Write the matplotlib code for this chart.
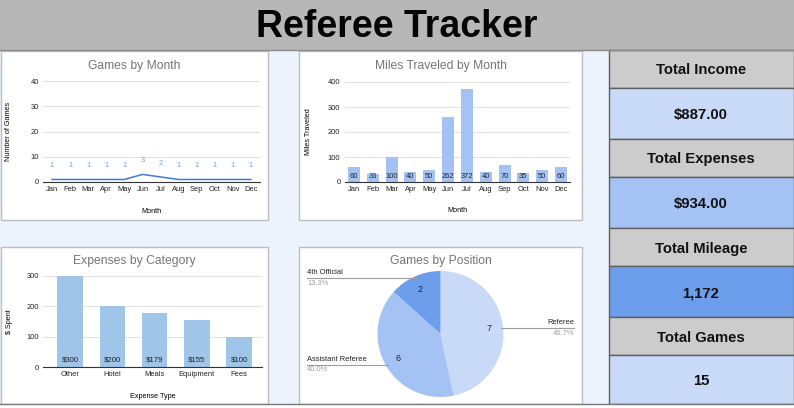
import matplotlib.pyplot as plt
from matplotlib.patches import Rectangle
import numpy as np

months = ['Jan', 'Feb', 'Mar', 'Apr', 'May', 'Jun', 'Jul', 'Aug', 'Sep', 'Oct', 'Nov', 'Dec']
games = [1, 1, 1, 1, 1, 3, 2, 1, 1, 1, 1, 1]
miles = [60, 33, 100, 40, 50, 262, 372, 40, 70, 35, 50, 60]
exp_types = ['Other', 'Hotel', 'Meals', 'Equipment', 'Fees']
exp_amounts = [300, 200, 179, 155, 100]
positions = ['Referee', 'Assistant Referee', '4th Official']
pos_games = [7, 6, 2]
summary_labels = ['Total Income', 'Total Expenses', 'Total Mileage', 'Total Games']
summary_values = ['$887.00', '$934.00', '1,172', '15']

W, H = 794, 408
plt.rcParams['font.family'] = ['Liberation Sans', 'DejaVu Sans']
fig = plt.figure(figsize=(W / 100, H / 100), dpi=100, facecolor='#ecf3fd')


def box(x0, y0, x1, y1):
    # pixel box (top-left origin) -> figure fraction
    return [x0 / W, 1 - y1 / H, (x1 - x0) / W, (y1 - y0) / H]


bg = fig.add_axes([0, 0, 1, 1])
bg.set_xlim(0, W)
bg.set_ylim(H, 0)
bg.axis('off')

# header
bg.add_patch(Rectangle((0, 0), W, 50, fc='#b7b7b7', ec='none'))
bg.plot([0, W], [50, 50], color='#8a8a8a', lw=1)
bg.text(397, 27, 'Referee Tracker', ha='center', va='center', fontsize=27,
        fontweight='bold', color='#050505')

# chart panels
for x0, y0, x1, y1 in [(0.5, 51, 268, 220), (299, 51, 582, 220),
                       (0.5, 247, 268, 404), (299, 247, 582, 404)]:
    bg.add_patch(Rectangle((x0, y0), x1 - x0, y1 - y0, fc='white', ec='#bdbdbd', lw=1))

# summary cells
edges = [50, 88, 139, 177, 228, 266, 317, 355, 404]
value_colors = ['#c9daf8', '#a4c2f4', '#6d9eeb', '#c9daf8']
for i in range(4):
    y0, y1, y2 = edges[2 * i], edges[2 * i + 1], edges[2 * i + 2]
    bg.add_patch(Rectangle((609, y0), W - 609, y1 - y0, fc='#cccccc', ec='#5f5f5f', lw=1))
    bg.add_patch(Rectangle((609, y1), W - 609, y2 - y1, fc=value_colors[i], ec='#5f5f5f', lw=1))
    bg.text(701, (y0 + y1) / 2 + 1.5, summary_labels[i], ha='center', va='center',
            fontsize=10.7, fontweight='bold', color='#111111')
    bg.text(701, (y1 + y2) / 2 + 1.5, summary_values[i], ha='center', va='center',
            fontsize=10.7, fontweight='bold', color='#111111')
bg.add_patch(Rectangle((0, 404), W, 4, fc='white', ec='none'))
bg.plot([0, W], [404, 404], color='#777777', lw=1)

tick_fs = 5.4
grid_c = '#e0e0e0'


def style(ax):
    for s in ['top', 'right', 'left']:
        ax.spines[s].set_visible(False)
    ax.spines['bottom'].set_color('#333333')
    ax.spines['bottom'].set_linewidth(0.8)
    ax.tick_params(length=0, labelsize=tick_fs, colors='#222222', pad=3)
    ax.yaxis.grid(True, color=grid_c, lw=0.7)
    ax.set_axisbelow(True)


# Games by Month
ax1 = fig.add_axes(box(43, 81, 260, 182))
style(ax1)
x = np.arange(len(months))
ax1.plot(x, games, color='#3f7bd6', lw=1.1)
for xi, v in zip(x, games):
    ax1.annotate(str(v), (xi, v), xytext=(0, 10), textcoords='offset points',
                 ha='center', va='center', fontsize=tick_fs, color='#6d9eeb')
ax1.set_xlim(-0.5, 11.5)
ax1.set_ylim(0, 40)
ax1.set_yticks([0, 10, 20, 30, 40])
ax1.set_xticks(x, months)
ax1.set_xlabel('Month', fontsize=5.2)
ax1.set_ylabel('Number of Games', fontsize=5.2)
ax1.xaxis.set_label_coords(0.5, -0.257)
ax1.yaxis.set_label_coords(-0.143, 0.5)
bg.text(134, 66, 'Games by Month', ha='center', va='center', fontsize=8.7, color='#757575')

# Miles Traveled by Month
ax2 = fig.add_axes(box(344.6, 82, 570.4, 182))
style(ax2)
ax2.bar(x, miles, width=0.64, color='#a4c2f4')
for xi, v in zip(x, miles):
    ax2.annotate(str(v), (xi, 0), xytext=(0, 4.3), textcoords='offset points',
                 ha='center', va='center', fontsize=tick_fs, color='#222222')
ax2.set_xlim(-0.5, 11.5)
ax2.set_ylim(0, 400)
ax2.set_yticks([0, 100, 200, 300, 400])
ax2.set_xticks(x, months)
ax2.set_xlabel('Month', fontsize=5.2)
ax2.set_ylabel('Miles Traveled', fontsize=5.2)
ax2.xaxis.set_label_coords(0.5, -0.25)
ax2.yaxis.set_label_coords(-0.144, 0.5)
bg.text(441, 66, 'Miles Traveled by Month', ha='center', va='center', fontsize=8.7, color='#757575')

# Expenses by Category
ax3 = fig.add_axes(box(43, 276, 262, 367))
style(ax3)
xe = np.arange(len(exp_types))
ax3.bar(xe, exp_amounts, width=0.6, color='#9fc5e8')
for xi, v in zip(xe, exp_amounts):
    ax3.annotate(f'${v}', (xi, 0), xytext=(0, 5), textcoords='offset points',
                 ha='center', va='center', fontsize=5.6, color='#222222')
ax3.set_xlim(-0.64, 4.54)
ax3.set_ylim(0, 300)
ax3.set_yticks([0, 100, 200, 300])
ax3.set_xticks(xe, exp_types)
ax3.set_xlabel('Expense Type', fontsize=5.2)
ax3.set_ylabel('$ Spent', fontsize=5.2)
ax3.xaxis.set_label_coords(0.5, -0.286)
ax3.yaxis.set_label_coords(-0.137, 0.5)
bg.text(134, 261, 'Expenses by Category', ha='center', va='center', fontsize=8.7, color='#757575')

# Games by Position
ax4 = fig.add_axes(box(299, 265, 582, 403))
ax4.axis('off')
total = sum(pos_games)
wedges, _, autotexts = ax4.pie(
    pos_games, colors=['#c9daf8', '#a4c2f4', '#6d9eeb'], startangle=90,
    counterclock=False, radius=1, pctdistance=0.78,
    autopct=lambda p: f'{round(p * total / 100)}',
    textprops=dict(fontsize=6.5, color='#222222'), wedgeprops=dict(lw=0))
ax4.set_xlim(-141.5 / 63, 141.5 / 63)
ax4.set_ylim(-69 / 63, 69 / 63)
edge_x = 133.5 / 63
for w, name, v in zip(wedges, positions, pos_games):
    ang = np.deg2rad((w.theta1 + w.theta2) / 2)
    px, py = 0.97 * np.cos(ang), 0.97 * np.sin(ang)
    side = -1 if px < 0 else 1
    ex = side * edge_x
    ax4.plot([ex, px], [py, py], color='#9e9e9e', lw=0.8)
    ha = 'left' if side < 0 else 'right'
    ax4.text(ex, py + 0.03, name, ha=ha, va='bottom', fontsize=5.4, color='#222222')
    ax4.text(ex, py - 0.03, f'{100 * v / total:.1f}%', ha=ha, va='top', fontsize=5.4, color='#9e9e9e')
bg.text(441, 261, 'Games by Position', ha='center', va='center', fontsize=8.7, color='#757575')

fig.savefig('out.png', dpi=100, facecolor=fig.get_facecolor())
